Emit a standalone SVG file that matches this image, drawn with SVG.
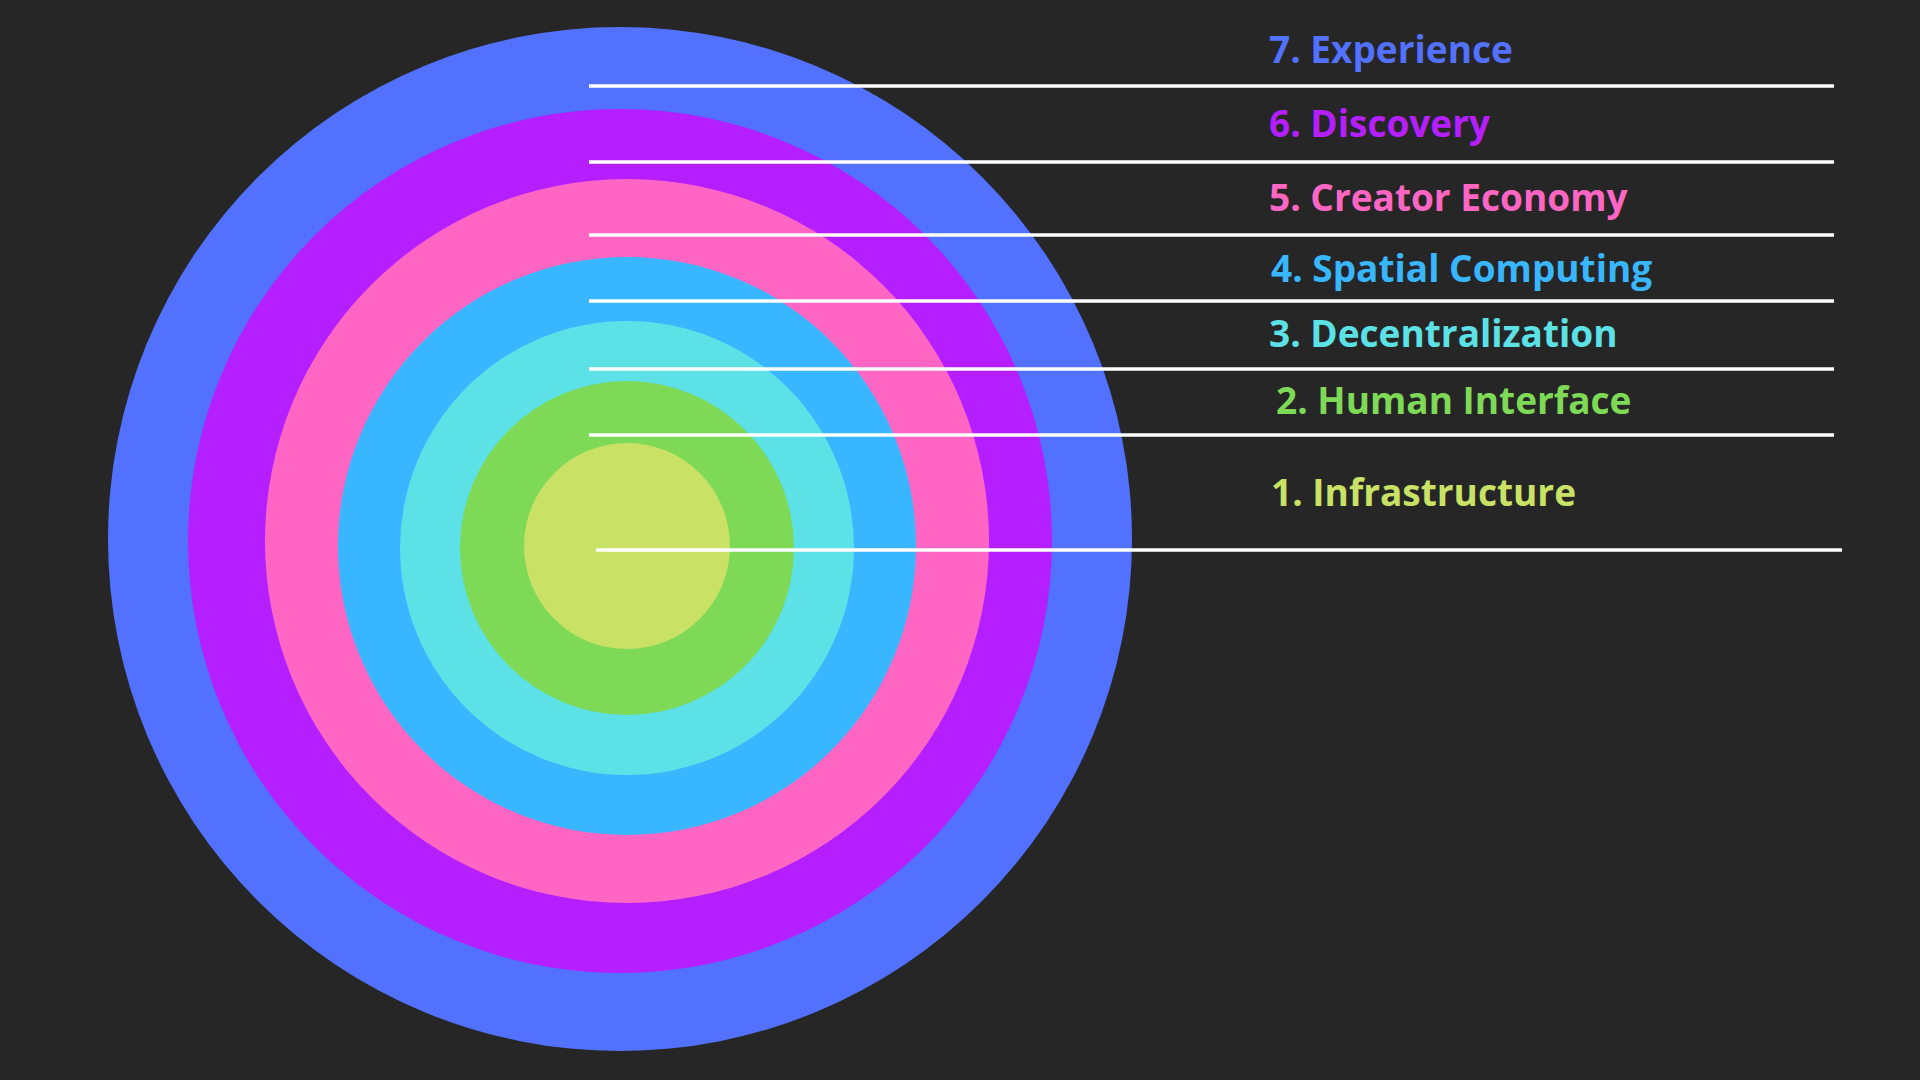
<svg xmlns="http://www.w3.org/2000/svg" width="1920" height="1080" viewBox="0 0 1920 1080">
<style>
.l{stroke:#fff;stroke-width:3.5}
text{font-family:"Open Sans","Liberation Sans",sans-serif;font-weight:700;font-size:37px}
</style>
<rect width="1920" height="1080" fill="#262626"/>
<g id="rings">
<circle id="r7" cx="620" cy="539" r="512" fill="#5271FF"/>
<circle id="r6" cx="620" cy="541" r="432" fill="#B51EFF"/>
<circle id="r5" cx="627" cy="541" r="362" fill="#FF66C4"/>
<circle id="r4" cx="627" cy="546" r="289" fill="#38B6FF"/>
<circle id="r3" cx="627" cy="548" r="227" fill="#5CE1E6"/>
<circle id="r2" cx="627" cy="548" r="167" fill="#7ED957"/>
<circle id="r1" cx="627" cy="546" r="103" fill="#C9E265"/>
</g>
<g id="connectors">
<line class="l" x1="589" y1="86" x2="1834" y2="86"/>
<line class="l" x1="589" y1="162" x2="1834" y2="162"/>
<line class="l" x1="589" y1="235" x2="1834" y2="235"/>
<line class="l" x1="589" y1="301" x2="1834" y2="301"/>
<line class="l" x1="589" y1="369" x2="1834" y2="369"/>
<line class="l" x1="589" y1="435" x2="1834" y2="435"/>
<line class="l" x1="596" y1="550" x2="1842" y2="550"/>
</g>
<g id="labels">
<text x="1269" y="63" fill="#5271FF">7. Experience</text>
<text x="1269" y="137" fill="#B51EFF">6. Discovery</text>
<text x="1269" y="211" fill="#FF66C4">5. Creator Economy</text>
<text x="1271" y="282" fill="#38B6FF">4. Spatial Computing</text>
<text x="1269" y="347" fill="#5CE1E6">3. Decentralization</text>
<text x="1276" y="414" fill="#7ED957">2. Human Interface</text>
<text x="1271" y="506" fill="#C9E265">1. Infrastructure</text>
</g>
</svg>
